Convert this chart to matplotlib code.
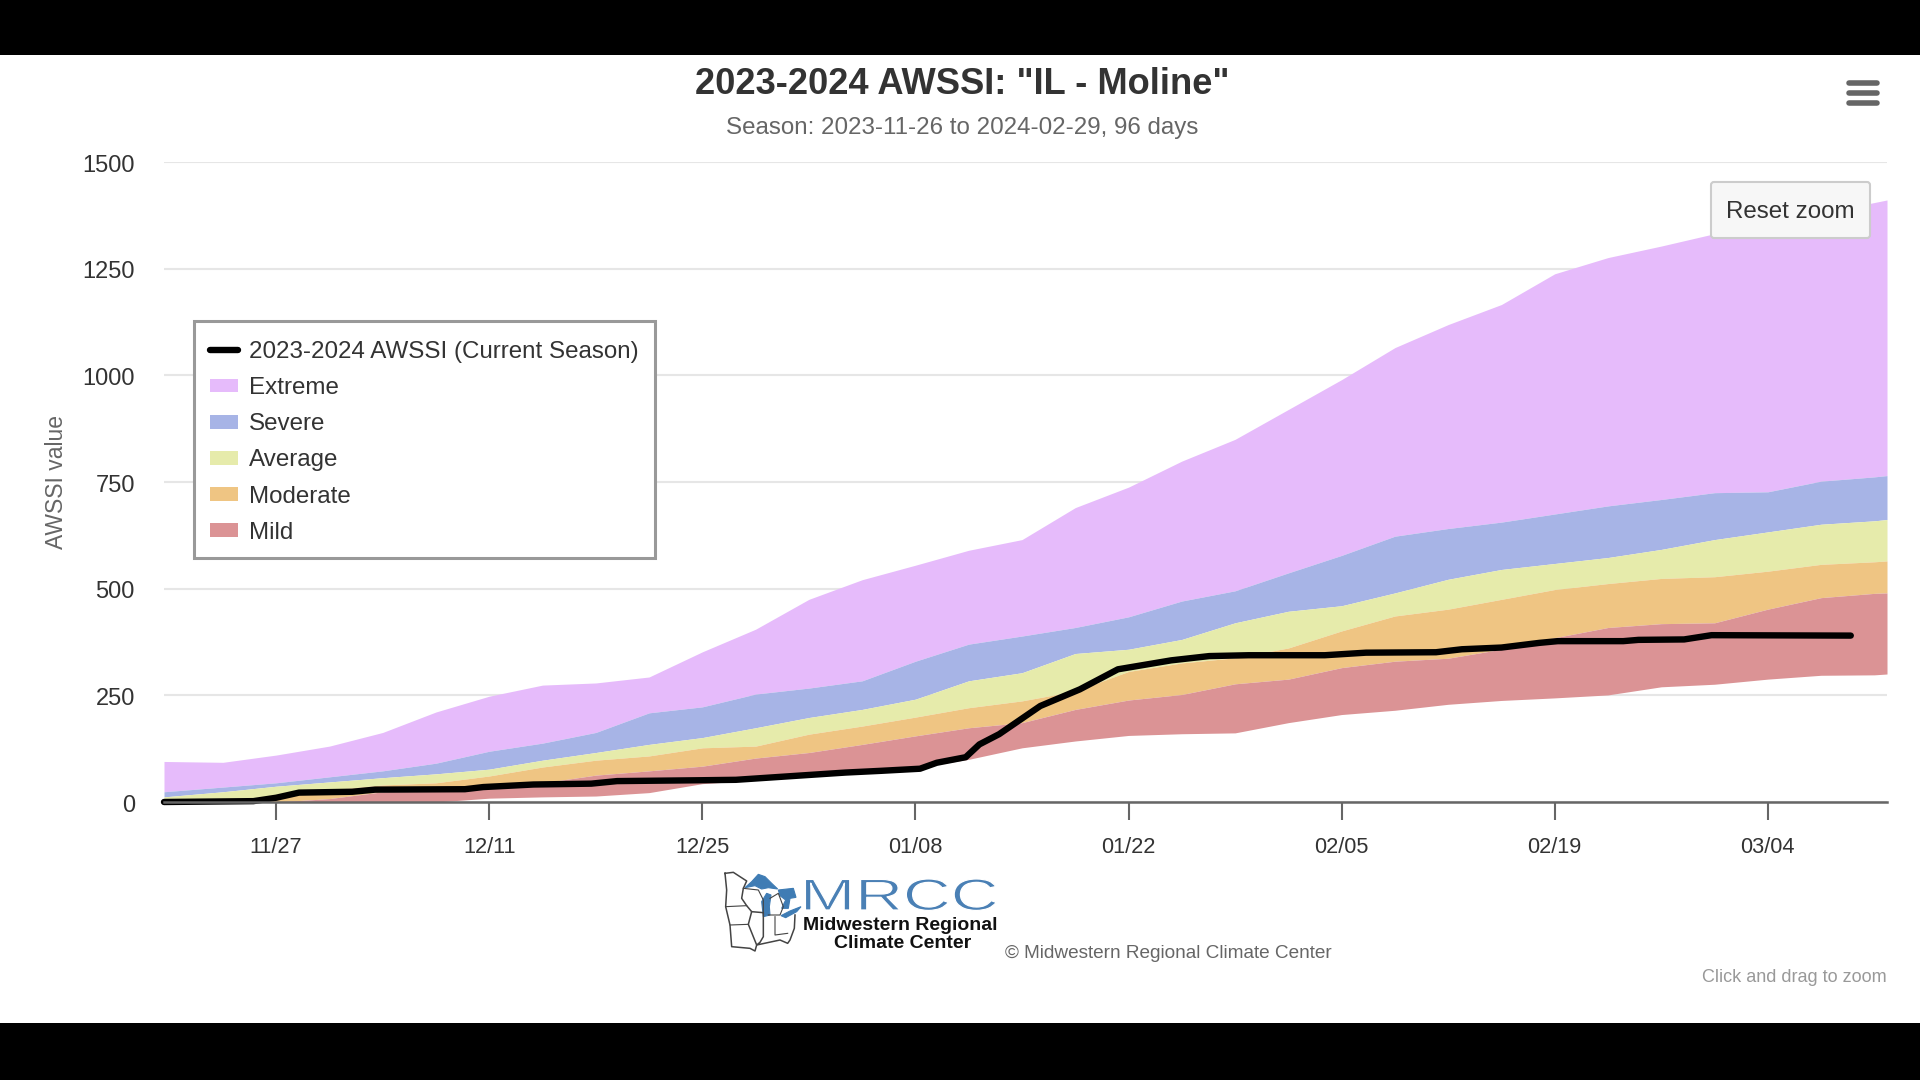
import matplotlib
matplotlib.use('Agg')
import matplotlib.pyplot as plt
from matplotlib.lines import Line2D
from matplotlib.patches import FancyBboxPatch, Patch, Polygon, Rectangle
from matplotlib.patheffects import AbstractPathEffect
from matplotlib.transforms import Affine2D

plt.rcParams['font.family'] = ['Liberation Sans', 'DejaVu Sans']

# days after 11/27, band edges are cumulative AWSSI values at these days
days = [-7.37, -3.5, 0, 3.5, 7, 10.5, 14, 17.5, 21, 24.5, 28, 31.5, 35, 38.5, 42, 45.5,
        49, 52.5, 56, 59.5, 63, 66.5, 70, 73.5, 77, 80.5, 84, 87.5, 91, 94.5, 98, 101.5,
        105, 105.83]
mild_low = [0, 0, 0, 0, 0, 0, 9, 12, 14, 22, 43, 51, 61, 73, 80, 100,
            127, 143, 156, 160, 162, 186, 205, 215, 229, 238, 244, 251, 270, 276, 288, 297,
            298, 300]
mild_top = [0, 0, 0, 8, 24, 28, 37, 45, 63, 73, 84, 103, 116, 135, 155, 174,
            186, 217, 239, 252, 277, 288, 315, 330, 337, 358, 385, 409, 418, 420, 452, 479,
            489, 490]
moderate_top = [0, 5, 12, 28, 40, 45, 61, 82, 98, 108, 127, 131, 159, 178, 199, 221,
                237, 260, 306, 326, 338, 361, 401, 436, 452, 475, 498, 512, 524, 528, 541, 557,
                563, 565]
average_top = [12, 24, 37, 47, 57, 66, 77, 98, 116, 135, 151, 174, 198, 217, 241, 284,
               303, 348, 358, 381, 420, 447, 460, 490, 522, 545, 559, 573, 592, 615, 633, 651,
               659, 662]
severe_top = [24, 35, 45, 59, 73, 91, 119, 138, 163, 209, 223, 253, 267, 284, 330, 370,
              389, 409, 434, 471, 495, 537, 578, 623, 641, 656, 675, 694, 709, 725, 727, 752,
              762, 765]
extreme_top = [95, 93, 110, 131, 163, 211, 248, 274, 279, 293, 352, 405, 475, 521, 555, 590,
               615, 690, 738, 799, 850, 920, 990, 1065, 1119, 1166, 1238, 1276, 1303, 1332, 1356, 1380,
               1405, 1411]

current_days = [-7.37, -1.5, 0, 1.5, 5, 6.5, 12.4, 13.6, 16.9, 20.7, 22.4, 27.9, 30.2, 34, 37.4,
                39.7, 42.3, 43.4, 45.3, 46.2, 47.5, 50.2, 52.8, 55.3, 58.8, 61.3, 63.9, 68.9,
                71.6, 76.2, 77.9, 80.5, 83, 84.2, 88.5, 89.5, 92.5, 94.3, 103.45]
current = [0, 2, 10, 22, 24, 29, 30, 35, 41, 43, 49, 51, 52, 61, 69,
           73, 78, 92, 105, 135, 159, 225, 264, 311, 332, 342, 344, 344,
           350, 351, 358, 362, 373, 377, 377, 380, 381, 391, 390]

tick_days = [0, 14, 28, 42, 56, 70, 84, 98]
tick_labels = ['11/27', '12/11', '12/25', '01/08', '01/22', '02/05', '02/19', '03/04']
y_ticks = [0, 250, 500, 750, 1000, 1250, 1500]

band_names = ['Extreme', 'Severe', 'Average', 'Moderate', 'Mild']
band_colors = ['#e6bbfb', '#a7b4e6', '#e6ebab', '#efc583', '#db9395']
band_edges = [(severe_top, extreme_top), (average_top, severe_top), (moderate_top, average_top),
              (mild_top, moderate_top), (mild_low, mild_top)]

W, H = 1920, 1080


class Stretch(AbstractPathEffect):
    # widens a text run about its left end and trims the glyph strokes
    def __init__(self, x0, sx, trim):
        super().__init__()
        self.x0, self.sx, self.trim = x0, sx, trim

    def draw_path(self, renderer, gc, tpath, affine, rgbFace=None):
        affine = affine + Affine2D().translate(-self.x0, 0).scale(self.sx, 1).translate(self.x0, 0)
        renderer.draw_path(gc, tpath, affine, rgbFace)
        gc0 = renderer.new_gc()
        gc0.copy_properties(gc)
        gc0.set_foreground('white')
        gc0.set_linewidth(self.trim)
        renderer.draw_path(gc0, tpath, affine, None)
        gc0.restore()


fig = plt.figure(figsize=(W / 100, H / 100), dpi=100, facecolor='white')

# canvas in pixel units for everything outside the plot area
bg = fig.add_axes([0, 0, 1, 1], zorder=0)
bg.set_xlim(0, W)
bg.set_ylim(H, 0)
bg.axis('off')
bg.add_patch(Rectangle((0, 0), W, 55, color='black', lw=0))
bg.add_patch(Rectangle((0, 1023), W, 57, color='black', lw=0))

ax = fig.add_axes([164 / W, 1 - 802 / H, (1887 - 164) / W, 640 / H], zorder=1)
ax.patch.set_alpha(0)
ax.set_xlim(-7.37, 105.83)
ax.set_ylim(0, 1500)
for (low, high), c in zip(band_edges, band_colors):
    ax.fill_between(days, low, high, color=c, lw=0, zorder=2)
ax.plot(current_days, current, color='black', lw=4.6, solid_capstyle='round',
        solid_joinstyle='round', zorder=3, clip_on=False)

ax.set_yticks(y_ticks)
ax.grid(axis='y', color='#e6e6e6', lw=1.5, zorder=1)
ax.set_axisbelow(True)
for s in ['top', 'right', 'left']:
    ax.spines[s].set_visible(False)
ax.spines['bottom'].set_color('#666666')
ax.spines['bottom'].set_linewidth(1.8)
ax.spines['bottom'].set_zorder(4)
ax.set_xticks(tick_days)
ax.set_xticklabels(tick_labels)
ax.tick_params(axis='x', length=13, width=1.5, color='#666666', labelsize=15.7, labelcolor='#333333', pad=12)
ax.tick_params(axis='y', length=0, labelsize=17, labelcolor='#333333', pad=21)
for label in ax.get_yticklabels():
    label.set_transform(label.get_transform() + Affine2D().translate(0, -1))
ax.set_ylabel('AWSSI value', fontsize=16.5, color='#666666')
ax.yaxis.set_label_coords(-0.0556, 0.5)

# legend frame is sized on its own so the rows can sit freely inside it
ax.add_patch(Rectangle((193.5 / W, 1 - 558 / H), 461.5 / W, 237 / H, transform=fig.transFigure,
                       facecolor='white', edgecolor='#999999', lw=2.2, zorder=4.5, clip_on=False))
handles = [Line2D([0], [0], color='black', lw=4.6, solid_capstyle='round')]
handles += [Patch(facecolor=c, edgecolor='none') for c in band_colors]
legend = ax.legend(handles, ['2023-2024 AWSSI (Current Season)'] + band_names,
                   loc='upper left', bbox_to_anchor=(210 / W, 1 - 341 / H),
                   bbox_transform=fig.transFigure, fontsize=17.4, frameon=False,
                   labelcolor='#333333', borderaxespad=0, borderpad=0,
                   handlelength=1.16, handleheight=0.5, handletextpad=0.45, labelspacing=0.585)
legend.set_zorder(5)

# overlay for the title block, button and footer
top = fig.add_axes([0, 0, 1, 1], zorder=2)
top.set_xlim(0, W)
top.set_ylim(H, 0)
top.axis('off')
top.patch.set_alpha(0)
top.text(962, 85, '2023-2024 AWSSI: "IL - Moline"', fontsize=26.1, fontweight='bold', color='#333333',
         ha='center', va='center')
top.text(962, 128, 'Season: 2023-11-26 to 2024-02-29, 96 days', fontsize=17.4, color='#666666',
         ha='center', va='center')
for y in [83, 93, 103]:
    top.plot([1849, 1877], [y, y], color='#666666', lw=4, solid_capstyle='round')
top.add_patch(FancyBboxPatch((1713, 184), 155, 52, boxstyle='round,pad=2,rounding_size=3',
                             facecolor='#f7f7f7', edgecolor='#cccccc', lw=1.5, zorder=6))
top.text(1790, 212, 'Reset zoom', fontsize=17.4, color='#333333', ha='center', va='center', zorder=7)
top.text(1005, 954, '\u00a9 Midwestern Regional Climate Center', fontsize=13.7, color='#666666',
         va='center')
top.text(1887, 978, 'Click and drag to zoom', fontsize=13, color='#999999', ha='right', va='center')

# MRCC logo outlines, in thirds of a pixel from the logo corner
outline = [(30, 25), (55, 22), (75, 35), (95, 48), (85, 70), (80, 100), (95, 122), (110, 140), (100, 178),
           (125, 240), (120, 258), (105, 250), (50, 245), (45, 180), (32, 125), (35, 75), (30, 25)]
east = [(110, 140), (145, 143), (145, 215), (135, 232), (125, 240), (195, 225), (218, 235), (225, 225),
        (238, 190), (240, 150)]
state_lines = [[(32, 125), (95, 122)], [(45, 180), (100, 178)], [(180, 155), (180, 210), (218, 205)],
               [(85, 70), (130, 75), (145, 105), (145, 143)],
               [(165, 100), (190, 85), (205, 125), (195, 150), (160, 150)]]
lakes = [[(90, 68), (110, 50), (130, 28), (150, 35), (170, 55), (188, 72), (160, 68), (140, 72), (120, 62)],
         [(140, 110), (155, 85), (168, 90), (163, 125), (165, 150), (145, 155)],
         [(190, 75), (235, 70), (243, 97), (225, 100), (220, 130), (200, 130), (212, 105), (195, 92)],
         [(198, 152), (225, 138), (258, 125), (245, 140), (212, 158)]]


def logo_xy(points):
    return [(715 + x / 3, 865 + y / 3) for x, y in points]


for line, lw in [(outline, 1.1), (east, 1.1)] + [(s, 0.8) for s in state_lines]:
    top.plot(*zip(*logo_xy(line)), color='#444444', lw=lw, solid_joinstyle='round')
for lake in lakes:
    top.add_patch(Polygon(logo_xy(lake), closed=True, facecolor='#3f7cb4', edgecolor='#3f7cb4', lw=0.8))

x_word = 800
top.text(x_word, 910, 'MRCC', fontsize=32, color='#4a80b5', va='baseline',
         path_effects=[Stretch(x_word, 1.49, 0.9)])
top.text(900, 925, 'Midwestern Regional', fontsize=14, fontweight='bold', color='#111111', ha='center',
         va='center')
top.text(903, 943, 'Climate Center', fontsize=14, fontweight='bold', color='#111111', ha='center',
         va='center')

fig.savefig('out.png', dpi=100)
